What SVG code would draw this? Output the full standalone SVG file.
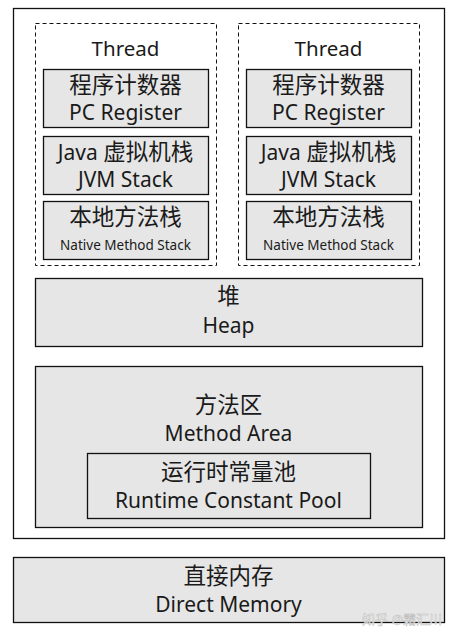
<svg xmlns="http://www.w3.org/2000/svg" width="459" height="639" viewBox="0 0 459 639">
<style>
.box{fill:#e6e6e6;stroke:#111;stroke-width:1.3}
.frame{fill:#fff;stroke:#111;stroke-width:1.3}
.dash{fill:none;stroke:#111;stroke-width:1;stroke-dasharray:4,3}
text{font-family:"Noto Sans","Noto Sans CJK SC",sans-serif;fill:#1a1a1a;text-anchor:middle}
.t{font-size:20.5px}
.l{font-size:21px}
.c{font-size:22.5px}
.s{font-size:13.5px}
.wm{font-size:13px;fill:#fff;stroke:#bdbdbd;stroke-width:0.5;text-anchor:start}
</style>
<rect width="459" height="639" fill="#fff"/>
<g id="jvm">
<rect class="frame" x="13.5" y="8.5" width="431" height="530"/>
</g>
<g id="thread1">
<rect class="dash" x="35.5" y="23.5" width="181" height="242"/>
<text class="t" x="125.5" y="56">Thread</text>
</g>
<g id="pc1">
<rect class="box" x="43.5" y="69.5" width="165" height="58"/>
<text class="c" x="125.5" y="92.5">程序计数器</text>
<text class="l" x="125.5" y="120">PC Register</text>
</g>
<g id="jvmstack1">
<rect class="box" x="43.5" y="136.5" width="165" height="58"/>
<text class="l" x="125.5" y="159.5">Java <tspan class="c">虚拟机栈</tspan></text>
<text class="l" x="125.5" y="187">JVM Stack</text>
</g>
<g id="native1">
<rect class="box" x="43.5" y="201.5" width="165" height="58"/>
<text class="c" x="125.5" y="224.5">本地方法栈</text>
<text class="s" x="125.5" y="250">Native Method Stack</text>
</g>
<g id="thread2">
<rect class="dash" x="238.5" y="23.5" width="181" height="242"/>
<text class="t" x="328.5" y="56">Thread</text>
</g>
<g id="pc2">
<rect class="box" x="246.5" y="69.5" width="165" height="58"/>
<text class="c" x="328.5" y="92.5">程序计数器</text>
<text class="l" x="328.5" y="120">PC Register</text>
</g>
<g id="jvmstack2">
<rect class="box" x="246.5" y="136.5" width="165" height="58"/>
<text class="l" x="328.5" y="159.5">Java <tspan class="c">虚拟机栈</tspan></text>
<text class="l" x="328.5" y="187">JVM Stack</text>
</g>
<g id="native2">
<rect class="box" x="246.5" y="201.5" width="165" height="58"/>
<text class="c" x="328.5" y="224.5">本地方法栈</text>
<text class="s" x="328.5" y="250">Native Method Stack</text>
</g>
<g id="heap">
<rect class="box" x="35.5" y="278.5" width="387" height="68"/>
<text class="c" x="228.5" y="303.5">堆</text>
<text class="l" x="228.5" y="333">Heap</text>
</g>
<g id="methodArea">
<rect class="box" x="35.5" y="366.5" width="387" height="161"/>
<text class="c" x="228.5" y="412.5">方法区</text>
<text class="l" x="228.5" y="441">Method Area</text>
</g>
<g id="constantPool">
<rect class="box" x="87.5" y="453.5" width="283" height="65"/>
<text class="c" x="228.5" y="479.5">运行时常量池</text>
<text class="l" x="228.5" y="508">Runtime Constant Pool</text>
</g>
<g id="directMemory">
<rect class="box" x="13.5" y="557.5" width="431" height="65"/>
<text class="c" x="228.5" y="583.5">直接内存</text>
<text class="l" x="228.5" y="612">Direct Memory</text>
</g>
<g id="connectors"></g>
<text class="wm" x="362" y="624">知乎 @霜汇川</text>
</svg>
